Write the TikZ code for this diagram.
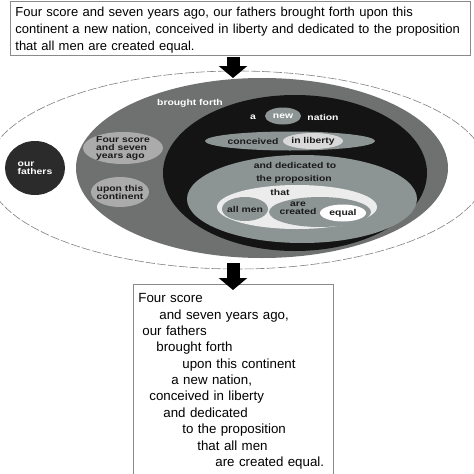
\documentclass[tikz,border=0pt]{standalone}
\usepackage{fontspec}
\setmainfont{Liberation Sans}
\newfontfamily\lblfont{Liberation Sans}[FakeStretch=1.22]
\usetikzlibrary{shapes.geometric,arrows.meta}
\definecolor{bfgray}{HTML}{6F7171}
\definecolor{midgray}{HTML}{8D9494}
\definecolor{lightov}{HTML}{ABABAB}
\definecolor{libgray}{HTML}{D9D9D9}
\definecolor{thatgray}{HTML}{ECECEC}
\definecolor{darkcirc}{HTML}{2B2B2B}
\definecolor{blackov}{HTML}{141414}
\definecolor{txtdark}{HTML}{1A1A1A}
\definecolor{boxline}{HTML}{8A8A8A}
\begin{document}
\begin{tikzpicture}[x=1pt,y=-1pt,
  el/.style 2 args={ellipse, inner sep=0pt, minimum width=#1, minimum height=#2},
  lbl/.style={font=\lblfont\bfseries\fontsize{8.5}{8}\selectfont, text=txtdark, inner sep=0pt, align=center},
  wlbl/.style={lbl, text=white},
  tbox/.style={draw=boxline, line width=0.8pt, fill=white, align=left, inner ysep=2pt},
  bigarrow/.style={line width=13pt, -{Triangle[width=28pt,length=12pt]}}]
\useasboundingbox (0,0) rectangle (474,474);
% top text box
\node[tbox, anchor=north west, minimum width=460pt, text width=450pt, inner xsep=5pt,
  font=\fontsize{13}{17}\selectfont] (topbox) at (10,1)
  {\rule{0pt}{13.5pt}Four score and seven years ago, our fathers brought forth upon this\\
   continent a new nation, conceived in liberty and dedicated to the proposition\\
   that all men are created equal.};
% ellipses
\node[el={500pt}{198pt}, draw=gray, line width=0.6pt, dash pattern=on 9pt off 2pt] (outer) at (237,170) {};
\node[el={372pt}{180pt}, fill=bfgray] (bf) at (262,168) {};
\node[el={60pt}{54pt}, fill=darkcirc] (fathers) at (35,168) {};
\node[el={80pt}{32pt}, fill=lightov] (four) at (123,148) {};
\node[el={58pt}{30pt}, fill=lightov] (upon) at (120,192) {};
\node[el={264pt}{156pt}, fill=blackov] (blk) at (295,173) {};
\node[el={36pt}{17pt}, fill=midgray] (new) at (283,116) {};
\node[el={170pt}{19pt}, fill=midgray] (conc) at (290,141) {};
\node[el={60pt}{16pt}, fill=libgray] (lib) at (313,141) {};
\node[el={230pt}{88pt}, fill=midgray] (ded) at (302,199) {};
\node[el={160pt}{44pt}, fill=thatgray] (that) at (297,207) {};
\node[el={46pt}{24pt}, fill=midgray] (allmen) at (245,209) {};
\node[el={102pt}{30pt}, fill=midgray] (created) at (320,212) {};
\node[el={46pt}{17pt}, fill=white] (equal) at (343,213) {};
% labels
\node[wlbl, align=left] at (fathers.center) {our\\fathers};
\node[wlbl] at (190,103) {brought forth};
\node[lbl, align=left] at (four.center) {Four score\\and seven\\years ago};
\node[lbl] at (upon.center) {upon this\\continent};
\node[wlbl] at (253,117) {a};
\node[wlbl] at (new.center) {new};
\node[wlbl] at (323,117) {nation};
\node[lbl] at (253,141) {conceived};
\node[lbl] at (lib.center) {in liberty};
\node[lbl] at (295,165) {and dedicated to};
\node[lbl] at (294,179) {the proposition};
\node[lbl] at (280,192) {that};
\node[lbl] at (allmen.center) {all men};
\node[lbl] at (298,208) {are\\created};
\node[lbl] at (equal.center) {equal};
% bottom text box
\node[tbox, anchor=north west, minimum width=200pt, minimum height=194pt, text width=190pt, inner xsep=5pt,
  font=\fontsize{13.3}{16.4}\selectfont] (botbox) at (133,284)
  {Four score\\
   \hspace*{21pt}and seven years ago,\\
   \hspace*{4pt}our fathers\\
   \hspace*{18pt}brought forth\\
   \hspace*{44pt}upon this continent\\
   \hspace*{33pt}a new nation,\\
   \hspace*{11pt}conceived in liberty\\
   \hspace*{25pt}and dedicated\\
   \hspace*{44pt}to the proposition\\
   \hspace*{59pt}that all men\\
   \hspace*{77pt}are created equal.};
% arrows
\coordinate (a1s) at (233,57);
\coordinate (a1e) at (233,78);
\coordinate (a2s) at (233,263);
\coordinate (a2e) at (233,290);
\draw[bigarrow] (a1s) -- (a1e);
\draw[bigarrow] (a2s) -- (a2e);
\end{tikzpicture}
\end{document}
